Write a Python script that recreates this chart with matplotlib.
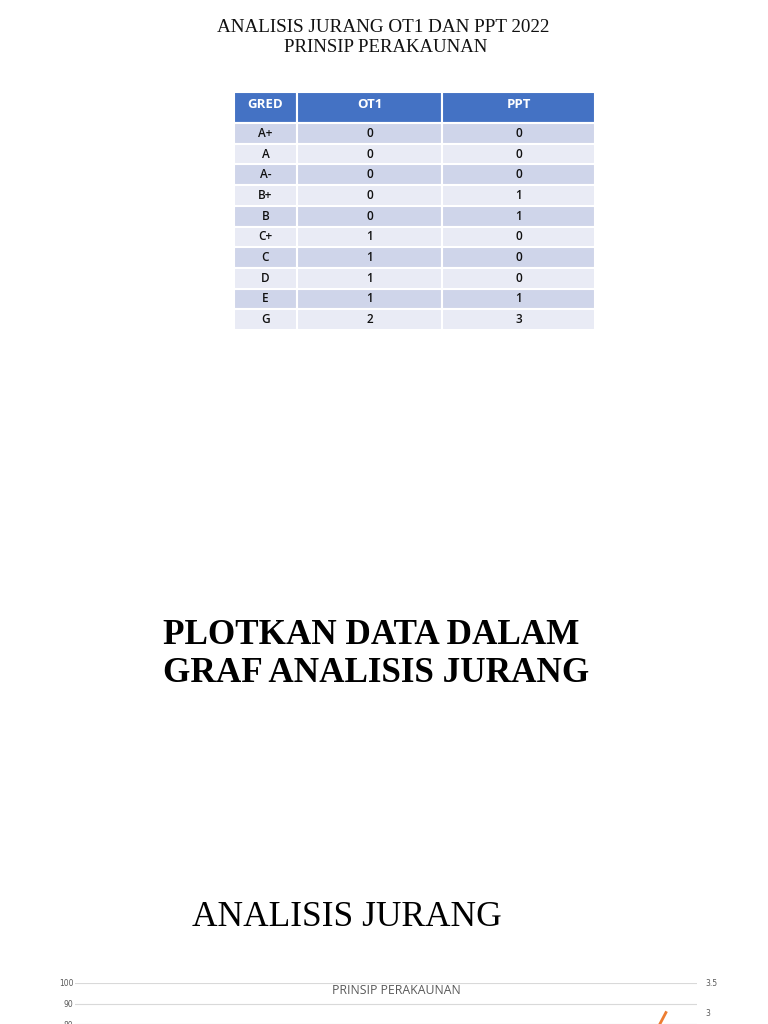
import numpy as np
import matplotlib.pyplot as plt

# data from the table
gred = ["A+", "A", "A-", "B+", "B", "C+", "C", "D", "E", "G"]
ot1 = [0, 0, 0, 0, 0, 1, 1, 1, 1, 2]
ppt = [0, 0, 0, 1, 1, 0, 0, 0, 1, 3]
col_labels = ["GRED", "OT1", "PPT"]
left_ticks = list(range(0, 101, 10))
right_ticks = [0, 0.5, 1, 1.5, 2, 2.5, 3, 3.5]

W, H = 768, 1024
fig = plt.figure(figsize=(W / 100, H / 100), dpi=100)
fig.patch.set_facecolor("white")

def fy(py):
    return 1 - py / H

serif = "Liberation Serif"

# page headers
fig.text(383 / W, fy(27), "ANALISIS JURANG OT1 DAN PPT 2022", family=serif,
         fontsize=13.8, ha="center", va="center", color="#111111")
fig.text(386 / W, fy(48), "PRINSIP PERAKAUNAN", family=serif,
         fontsize=13.5, ha="center", va="center", color="#111111")

# table
tx0, tx1, ty0, ty1 = 234, 595, 92, 330
tab_ax = fig.add_axes([tx0 / W, fy(ty1), (tx1 - tx0) / W, (ty1 - ty0) / H])
tab_ax.axis("off")
rows = [[g, str(a), str(b)] for g, a, b in zip(gred, ot1, ppt)]
tbl = tab_ax.table(cellText=rows, colLabels=col_labels, bbox=[0, 0, 1, 1],
                   cellLoc="center")
tbl.auto_set_font_size(False)
widths = [63, 145, 153]
n_rows = len(rows) + 1
for (r, c), cell in tbl.get_celld().items():
    cell.set_width(widths[c] / sum(widths))
    cell.set_edgecolor("white")
    cell.set_linewidth(1.5)
    txt = cell.get_text()
    txt.set_family("Open Sans")
    if r == 0:
        cell.set_facecolor("#4472C4")
        txt.set_color("white")
        txt.set_fontweight("bold")
        txt.set_fontsize(9.5)
        txt.set_va("baseline")  # header text sits in upper half of the cell
        cell.set_height(1.5 / (n_rows + 0.5))
    else:
        cell.set_facecolor("#CFD5EA" if r % 2 == 1 else "#E9EBF5")
        txt.set_color("#111111")
        txt.set_fontsize(8.5)
        txt.set_fontweight("semibold")
        cell.set_height(1 / (n_rows + 0.5))

# big headings
fig.text(371 / W, fy(636), "PLOTKAN DATA DALAM", family=serif, fontweight="bold",
         fontsize=25.3, ha="center", va="center", color="black")
fig.text(376 / W, fy(674), "GRAF ANALISIS JURANG", family=serif, fontweight="bold",
         fontsize=25.3, ha="center", va="center", color="black")
fig.text(347 / W, fy(918), "ANALISIS JURANG", family=serif,
         fontsize=25.5, ha="center", va="center", color="black")

# chart (cut off at the bottom of the page)
ax_top, ax_h = 983, 207
ax = fig.add_axes([75 / W, fy(ax_top + ax_h), (697 - 75) / W, ax_h / H])
ax.set_ylim(0, 100)
ax.set_yticks(left_ticks)
ax.set_xlim(-0.5, len(gred) - 0.5)
ax.set_xticks([])
ax.grid(axis="y", color="#D9D9D9", linewidth=0.8)
ax.set_axisbelow(True)
for s in ax.spines.values():
    s.set_visible(False)
ax.tick_params(axis="y", length=0, labelsize=5.5, labelcolor="#595959", pad=1)

ax2 = ax.twinx()
ax2.set_ylim(0, 3.5)
ax2.set_yticks(right_ticks)
ax2.set_yticklabels([f"{v:g}" for v in right_ticks])
for s in ax2.spines.values():
    s.set_visible(False)
ax2.tick_params(axis="y", length=0, labelsize=5.5, labelcolor="#595959", pad=6)
x = np.arange(len(gred))
ax2.plot(x, ot1, color="#4472C4", linewidth=2)
ax2.plot(x, ppt, color="#ED7D31", linewidth=2)

fig.text(396 / W, fy(991), "PRINSIP PERAKAUNAN", family="Open Sans",
         fontsize=8.8, ha="center", va="center", color="#595959")

fig.savefig("out.png", dpi=100)
